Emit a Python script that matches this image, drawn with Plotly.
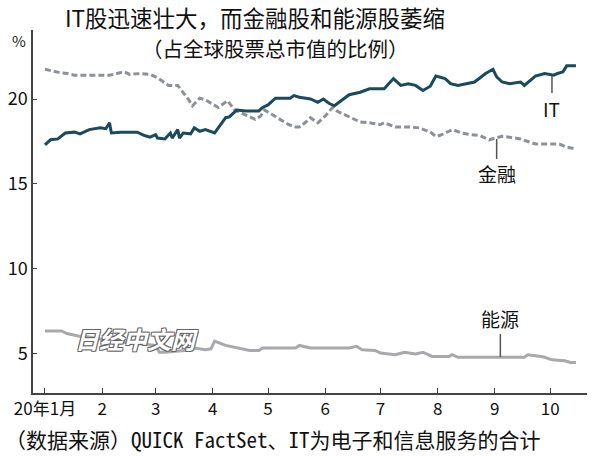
import plotly.graph_objects as go

# ---- data ----
it_dates = ["2020-01-01","2020-01-04","2020-01-08","2020-01-12","2020-01-17","2020-01-20","2020-01-25","2020-01-31",
            "2020-02-03","2020-02-05","2020-02-06","2020-02-11","2020-02-20","2020-02-24","2020-02-27",
            "2020-03-01","2020-03-02","2020-03-06","2020-03-09","2020-03-10","2020-03-13","2020-03-14","2020-03-16",
            "2020-03-20","2020-03-22","2020-03-25","2020-03-28","2020-04-02","2020-04-04","2020-04-08","2020-04-10",
            "2020-04-14","2020-04-19","2020-04-26","2020-04-28","2020-05-01","2020-05-05","2020-05-13","2020-05-15",
            "2020-05-18","2020-05-24","2020-05-28","2020-05-31","2020-06-03","2020-06-06","2020-06-10","2020-06-14",
            "2020-06-20","2020-06-25","2020-07-03","2020-07-08","2020-07-12","2020-07-16","2020-07-20","2020-07-24",
            "2020-07-28","2020-07-31","2020-08-05","2020-08-08","2020-08-12","2020-08-16","2020-08-21","2020-08-27",
            "2020-08-31","2020-09-02","2020-09-05","2020-09-09","2020-09-15","2020-09-17","2020-09-20","2020-09-23",
            "2020-09-28","2020-10-03","2020-10-05","2020-10-08","2020-10-10","2020-10-15"]
it_values = [17.3,17.6,17.65,18.0,18.05,17.95,18.2,18.3,
             18.25,18.6,18.0,18.05,18.05,17.85,17.75,
             17.9,17.7,17.65,18.0,17.7,18.2,17.7,18.0,
             17.95,18.3,18.1,18.2,18.0,18.3,18.9,18.95,
             19.35,19.3,19.3,19.5,19.65,20.05,20.05,20.2,
             20.1,20.0,19.8,20.0,19.75,19.6,19.95,20.25,
             20.4,20.6,20.6,21.2,20.8,20.9,20.8,20.5,
             20.75,21.35,21.2,20.9,20.8,20.9,21.0,21.5,
             21.75,21.3,21.0,20.9,21.0,20.8,21.1,21.35,
             21.5,21.4,21.5,21.6,21.95,21.95]

fin_dates = ["2020-01-01","2020-01-05","2020-01-09","2020-01-13","2020-01-17","2020-02-05","2020-02-10","2020-02-13",
             "2020-02-16","2020-02-22","2020-02-27","2020-03-01","2020-03-04","2020-03-08","2020-03-13","2020-03-16",
             "2020-03-19","2020-03-21","2020-03-25","2020-03-28","2020-03-31","2020-04-04","2020-04-09","2020-04-13",
             "2020-04-19","2020-04-24","2020-04-27","2020-04-29","2020-05-03","2020-05-08","2020-05-12","2020-05-16",
             "2020-05-18","2020-05-21","2020-05-24","2020-05-28","2020-06-01","2020-06-05","2020-06-08","2020-06-12",
             "2020-06-16","2020-06-20","2020-06-25","2020-07-01","2020-07-03","2020-07-09","2020-07-17","2020-07-22",
             "2020-07-28","2020-07-31","2020-08-02","2020-08-06","2020-08-09","2020-08-14","2020-08-19","2020-08-24",
             "2020-08-29","2020-09-01","2020-09-05","2020-09-09","2020-09-15","2020-09-19","2020-09-23","2020-10-06",
             "2020-10-09","2020-10-15"]
fin_values = [21.75,21.65,21.55,21.5,21.4,21.4,21.55,21.6,
              21.45,21.5,21.45,21.3,21.1,20.8,20.8,20.4,
              19.95,19.6,20.05,19.95,19.75,19.5,19.9,19.35,
              19.05,18.8,19.0,19.35,19.1,18.75,18.5,18.35,
              18.35,18.6,18.9,18.6,19.0,19.5,19.25,19.05,
              18.85,18.65,18.6,18.5,18.6,18.35,18.35,18.3,
              18.05,17.8,17.85,18.05,18.2,18.0,17.9,17.85,
              17.6,17.7,17.8,17.75,17.65,17.5,17.35,17.35,
              17.2,17.05]

en_dates = ["2020-01-01","2020-01-10","2020-01-13","2020-01-19","2020-01-25","2020-02-03","2020-02-11","2020-02-22",
            "2020-03-01","2020-03-03","2020-03-06","2020-03-12","2020-03-17","2020-03-22","2020-03-28","2020-03-31",
            "2020-04-02","2020-04-08","2020-04-16","2020-04-21","2020-04-26","2020-04-28","2020-05-16","2020-05-18",
            "2020-05-24","2020-06-14","2020-06-18","2020-06-21","2020-06-28","2020-07-01","2020-07-09","2020-07-14",
            "2020-07-20","2020-07-24","2020-07-29","2020-08-07","2020-08-09","2020-08-12","2020-09-17","2020-09-19",
            "2020-09-26","2020-09-28","2020-10-02","2020-10-09","2020-10-12","2020-10-15"]
en_values = [6.35,6.35,6.2,6.05,6.0,5.8,5.7,5.6,
             5.5,5.1,5.1,5.15,5.2,5.35,5.25,5.3,
             5.75,5.5,5.3,5.2,5.2,5.35,5.35,5.5,
             5.35,5.35,5.45,5.25,5.2,5.05,4.95,5.1,
             5.0,5.1,4.85,4.85,4.95,4.8,4.8,4.95,
             4.85,4.8,4.65,4.6,4.5,4.5]

x_tickvals = ["2020-01-01","2020-02-01","2020-03-01","2020-04-01","2020-05-01",
              "2020-06-01","2020-07-01","2020-08-01","2020-09-01","2020-10-01"]
x_ticktext = ["20年1月","2","3","4","5","6","7","8","9","10"]
y_tickvals = [5, 10, 15, 20]

title_text = "IT股迅速壮大，而金融股和能源股萎缩"
subtitle_text = "（占全球股票总市值的比例）"
source_text = "（数据来源）QUICK FactSet、IT为电子和信息服务的合计"

CJK = "Noto Sans CJK SC, Noto Sans CJK JP, sans-serif"
MONO = "Noto Sans Mono CJK SC, Noto Sans CJK SC, monospace"

# plot-area geometry (pixels) used to place texts outside the axes
W, H = 600, 457
L, R, T, B = 33, 13, 30, 64
PW, PH = W - L - R, H - T - B


def px(x):
    return (x - L) / PW


def py(y):
    return (H - B - y) / PH


fig = go.Figure()
fig.add_trace(go.Scatter(x=fin_dates, y=fin_values, mode="lines",
                         line=dict(color="#8c9198", width=3, dash="6px,3px"), name="金融"))
fig.add_trace(go.Scatter(x=en_dates, y=en_values, mode="lines",
                         line=dict(color="#a7a9ac", width=3), name="能源"))
fig.add_trace(go.Scatter(x=it_dates, y=it_values, mode="lines",
                         line=dict(color="#1a4a5e", width=3), name="IT"))

fig.update_layout(
    width=W, height=H,
    margin=dict(l=L, r=R, t=T, b=B, autoexpand=False),
    paper_bgcolor="white", plot_bgcolor="white",
    showlegend=False,
    font=dict(family=CJK, color="#111"),
)
fig.update_xaxes(
    range=["2019-12-25 12:00", "2020-10-21"],
    tickvals=x_tickvals, ticktext=x_ticktext,
    showgrid=False, zeroline=False,
    showline=True, linecolor="#444", linewidth=1.5,
    ticks="inside", ticklen=5, tickcolor="#444", tickwidth=1.2,
    tickfont=dict(size=17, family=CJK, color="#111"),
)
fig.update_yaxes(
    range=[2.7, 24.06],
    tickvals=y_tickvals,
    showgrid=False, zeroline=False,
    showline=True, linecolor="#444", linewidth=1.5,
    ticks="inside", ticklen=4, tickcolor="#444", tickwidth=1.2,
    tickfont=dict(size=18, family=CJK, color="#111"),
)

fig.add_annotation(x=px(255), y=py(17), xref="paper", yref="paper", text=title_text, showarrow=False,
                   xanchor="center", yanchor="middle", borderpad=0,
                   font=dict(size=22.5, family=CJK, color="#111"))
fig.add_annotation(x=px(275), y=py(48), xref="paper", yref="paper", text=subtitle_text, showarrow=False,
                   xanchor="center", yanchor="middle", borderpad=0,
                   font=dict(size=20.5, family=CJK, color="#111"))
fig.add_annotation(x=px(3), y=py(439), xref="paper", yref="paper", text=source_text, showarrow=False,
                   xanchor="left", yanchor="middle", font=dict(size=21, family=MONO, color="#111"))
fig.add_annotation(x=px(19), y=py(41), xref="paper", yref="paper", text="%", showarrow=False,
                   xanchor="center", yanchor="middle", font=dict(size=15, family=CJK, color="#222"))

# series labels with leader lines
fig.add_annotation(x="2020-10-02", y=21.35, text="IT", showarrow=True, arrowhead=0, arrowwidth=1.5,
                   arrowcolor="#555", ax=0, ay=32, font=dict(size=19, family=CJK, color="#111"))
fig.add_annotation(x="2020-09-02", y=17.65, text="金融", showarrow=True, arrowhead=0, arrowwidth=1.5,
                   arrowcolor="#555", ax=0, ay=35, font=dict(size=19, family=CJK, color="#111"))
fig.add_annotation(x="2020-09-04", y=4.82, text="能源", showarrow=True, arrowhead=0, arrowwidth=1.5,
                   arrowcolor="#555", ax=0, ay=-38, font=dict(size=19, family=CJK, color="#111"))

# watermark
fig.add_annotation(x=px(136), y=py(338), xref="paper", yref="paper", text="<b><i>日经中文网</i></b>",
                   showarrow=False, xanchor="center", yanchor="middle",
                   font=dict(size=24, family=CJK, color="white",
                             shadow="1px 1px 0 #666, -1px -1px 0 #666, 1px -1px 0 #666, -1px 1px 0 #666"))

fig.write_html("out.html", config={"displayModeBar": False},
               post_script="document.body.style.margin='0';document.body.style.overflow='hidden';")
